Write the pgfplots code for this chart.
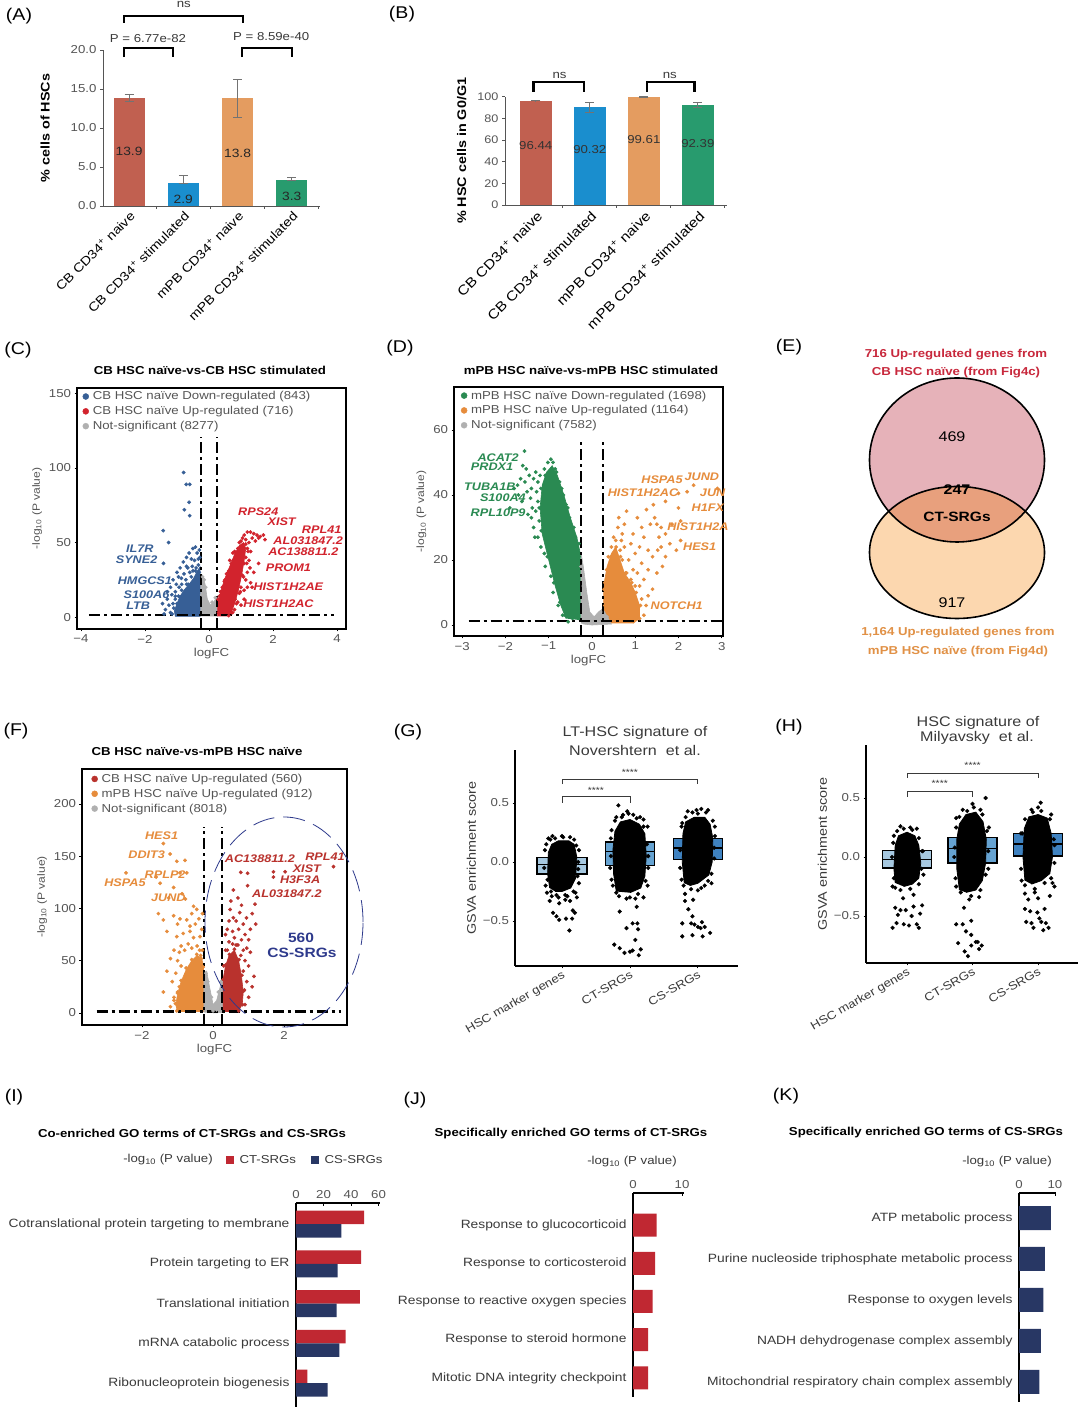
\documentclass[border=0pt]{standalone}
\usepackage{fontspec}
\setmainfont{Liberation Sans}[FakeStretch=1.15]
\usepackage{pgfplots}
\pgfplotsset{compat=1.18}
\usepgfplotslibrary{statistics}

\definecolor{cbn}{HTML}{C16050}
\definecolor{cbs}{HTML}{1A8ECE}
\definecolor{mpn}{HTML}{E49C60}
\definecolor{mps}{HTML}{289B6E}
\definecolor{vblue}{HTML}{375F96}
\definecolor{vred}{HTML}{D2232D}
\definecolor{vgray}{HTML}{B0B0B0}
\definecolor{vgreen}{HTML}{2A8A52}
\definecolor{vorange}{HTML}{E68C3C}
\definecolor{fred}{HTML}{B9322D}
\definecolor{gored}{HTML}{C02832}
\definecolor{gonavy}{HTML}{283764}
\definecolor{txt}{HTML}{3A3A3A}
\definecolor{tick}{HTML}{555555}
\definecolor{vennA}{HTML}{E6B2B9}
\definecolor{vennB}{HTML}{FCD7AF}
\definecolor{vennAB}{HTML}{E8A07D}
\definecolor{vennAt}{HTML}{C8283C}
\definecolor{vennBt}{HTML}{E19146}
\definecolor{box1}{HTML}{A6C8E0}
\definecolor{box2}{HTML}{66A3D2}
\definecolor{box3}{HTML}{3F82C0}
\definecolor{csnavy}{HTML}{2E3A8C}

\newcommand{\fs}[1]{\fontsize{#1}{#1}\selectfont}
\tikzset{gl/.style={font=\bfseries\itshape\fs{11}}}

\pgfplotsset{
  barp/.style={scale only axis, anchor=south west, clip=false, ybar,
    axis lines=left, axis line style={-, draw=tick, line width=0.9pt},
    tick align=outside, major tick length=3pt,
    ytick style={draw=tick, line width=0.9pt},
    yticklabel style={font=\fs{11.5}, text=tick},
    xtick={1,2,3,4}, major x tick style={draw=none},
    minor xtick={1.5,2.5,3.5,4.5}, minor tick length=3pt,
    minor x tick style={draw=tick, line width=0.9pt},
    xticklabel style={rotate=45, anchor=north east, text=black, inner sep=1pt},
    ylabel style={font=\bfseries\fs{12.5}},
    error bars/y dir=both, error bars/y explicit,
    error bars/error bar style={line width=0.8pt, draw=black!55},
    error bars/error mark options={rotate=90, mark size=4.5pt, line width=0.8pt, draw=black!55}},
  vol/.style={scale only axis, anchor=south west, clip=false,
    axis line style={line width=1.6pt},
    tick pos=left, tick align=outside, major tick length=2.5pt,
    tick style={line width=0.6pt, draw=black},
    ticklabel style={font=\fs{11.5}, text=tick},
    xlabel={logFC}, xlabel style={font=\fs{11.5}, text=tick, yshift=2pt},
    ylabel={-log\textsubscript{10} (P value)}, ylabel style={font=\fs{10.5}, text=tick},
    legend cell align=left,
    legend style={anchor=north west, draw=none, fill=none,
      font=\fs{11.5}, text=tick, row sep=3pt, inner sep=0pt, nodes={inner sep=1pt}},
    legend image code/.code={\fill[##1] (3pt,0pt) circle (3pt); \path[draw=none, fill=none] (0pt,0pt) (9pt,0pt);}},
  dots/.style={only marks, mark=*, mark size=1.7pt},
  thr/.style={black, line width=2.4pt, dash pattern=on 11pt off 4pt on 3pt off 4pt, forget plot},
  core/.style={forget plot, line width=0.6pt},
  gsva/.style={scale only axis, anchor=south west, clip=false, axis lines=left,
    boxplot/draw direction=y,
    axis line style={-, line width=2pt}, tick align=outside, major tick length=2.5pt,
    tick style={line width=0.8pt, black},
    ytick={-0.5,0,0.5}, yticklabels={−0.5,0.0,0.5}, yticklabel style={font=\fs{11.5}, text=tick},
    xtick={1,2,3}, xticklabels={HSC marker genes,CT-SRGs,CS-SRGs},
    xticklabel style={rotate=30, anchor=north east, font=\fs{11.5}, text=txt, inner sep=1pt},
    ylabel={GSVA enrichment score}, ylabel style={font=\fs{12.5}, text=txt}},
  jit/.style={only marks, mark=*, mark size=1.9pt, black},
  jcore/.style={forget plot, fill=black, draw=black, line width=0.8pt},
  bx/.style={draw=black, line width=1.5pt},
  gobar/.style={scale only axis, anchor=south west, clip=false, xbar,
    axis x line*=top, axis y line*=left, axis line style={-, line width=1.8pt},
    tick align=inside, major tick length=3pt, xtick style={line width=0.8pt, black},
    ytick={1,2,3,4,5}, ytick style={draw=none},
    xticklabel style={font=\fs{11.5}, text=tick, yshift=1pt},
    yticklabel style={font=\fs{12}, text=txt, xshift=-3pt}},
}

\begin{document}
\begin{tikzpicture}
\path[use as bounding box, fill=white] (0pt,0pt) rectangle (1080pt,1409pt);

% ---------------- (A)
\begin{axis}[barp, at={(103pt,1203pt)}, width=217pt, height=156pt,
  xmin=0.52, xmax=4.52, ymin=0, ymax=20, bar width=31pt,
  ytick={0,5,10,15,20}, yticklabels={0.0,5.0,10.0,15.0,20.0},
  xticklabels={CB CD34\textsuperscript{+} naive, CB CD34\textsuperscript{+} stimulated, mPB CD34\textsuperscript{+} naive, mPB CD34\textsuperscript{+} stimulated},
  xticklabel style={font=\fs{12.5}},
  ylabel={\% cells of HSCs}, ylabel shift=14pt]
\addplot[fill=cbn, draw=none, bar shift=0pt] coordinates {(1,13.9) +- (0,0.45)};
\addplot[fill=cbs, draw=none, bar shift=0pt] coordinates {(2,2.9) += (0,1.05) -= (0,0)};
\addplot[fill=mpn, draw=none, bar shift=0pt] coordinates {(3,13.8) +- (0,2.4)};
\addplot[fill=mps, draw=none, bar shift=0pt] coordinates {(4,3.3) += (0,0.4) -= (0,0)};
\node[font=\fs{12}, text=black!85] at (axis cs:1,7.0) {13.9};
\node[font=\fs{12}, text=black!85] at (axis cs:2,0.9) {2.9};
\node[font=\fs{12}, text=black!85] at (axis cs:3,6.7) {13.8};
\node[font=\fs{12}, text=black!85] at (axis cs:4,1.2) {3.3};
\draw[line width=2.4pt] (axis cs:0.91,23.46) -- (axis cs:0.91,24.36) -- (axis cs:3.1,24.36) -- (axis cs:3.1,23.46);
\draw[line width=2.4pt] (axis cs:0.91,19.1) -- (axis cs:0.91,20.26) -- (axis cs:1.81,20.26) -- (axis cs:1.81,19.1);
\draw[line width=2.4pt] (axis cs:3.08,19.1) -- (axis cs:3.08,20.26) -- (axis cs:4.0,20.26) -- (axis cs:4.0,19.1);
\node[font=\fs{11.5}, text=txt] at (axis cs:2.01,25.8) {ns};
\node[font=\fs{11.5}, text=txt] at (axis cs:1.35,21.5) {P = 6.77e-82};
\node[font=\fs{11.5}, text=txt] at (axis cs:3.62,21.7) {P = 8.59e-40};
\end{axis}

% ---------------- (B)
\begin{axis}[barp, at={(505pt,1204pt)}, width=222pt, height=108.3pt,
  xmin=0.43, xmax=4.54, ymin=0, ymax=100, bar width=32pt,
  ytick={0,20,40,60,80,100}, yticklabels={0,20,40,60,80,100},
  yticklabel style={font=\fs{11}},
  xticklabels={CB CD34\textsuperscript{+} naive, CB CD34\textsuperscript{+} stimulated, mPB CD34\textsuperscript{+} naive, mPB CD34\textsuperscript{+} stimulated},
  xticklabel style={font=\fs{13.5}},
  ylabel={\% HSC cells in G0/G1}, ylabel shift=4pt]
\addplot[fill=cbn, draw=none, bar shift=0pt] coordinates {(1,96.44) +- (0,0.3)};
\addplot[fill=cbs, draw=none, bar shift=0pt] coordinates {(2,90.32) +- (0,4.5)};
\addplot[fill=mpn, draw=none, bar shift=0pt] coordinates {(3,99.61) +- (0,0.3)};
\addplot[fill=mps, draw=none, bar shift=0pt] coordinates {(4,92.39) +- (0,2.5)};
\node[font=\fs{11.5}, text=black!80] at (axis cs:1,54.7) {96.44};
\node[font=\fs{11.5}, text=black!80] at (axis cs:2,50.8) {90.32};
\node[font=\fs{11.5}, text=black!80] at (axis cs:3,60.6) {99.61};
\node[font=\fs{11.5}, text=black!80] at (axis cs:4,56.3) {92.39};
\draw[line width=2.4pt] (axis cs:0.96,104.6) -- (axis cs:0.96,113.6) -- (axis cs:1.89,113.6) -- (axis cs:1.89,104.6);
\draw[line width=2.4pt] (axis cs:3.06,104.6) -- (axis cs:3.06,113.6) -- (axis cs:3.94,113.6) -- (axis cs:3.94,104.6);
\node[font=\fs{11.5}, text=txt] at (axis cs:1.44,120) {ns};
\node[font=\fs{11.5}, text=txt] at (axis cs:3.48,120) {ns};
\end{axis}

% ---------------- (C)
\begin{axis}[vol, at={(77pt,780pt)}, width=269pt, height=241pt,
  xmin=-4.12, xmax=4.28, ymin=-8, ymax=153.7,
  xtick={-4,-2,0,2,4}, xticklabels={−4,−2,0,2,4},
  ytick={0,50,100,150}, yticklabels={0,50,100,150},
  legend style={at={(0.02,0.99)}}]
\addplot[core, fill=vgray, draw=vgray] coordinates {(-0.26,0.5) (-0.26,24) (-0.2,28) (-0.12,22) (-0.05,12) (0.05,8) (0.15,10) (0.26,14) (0.26,0.5)};
\addplot[core, fill=vblue, draw=vblue] coordinates {(-0.27,0.5) (-1.05,0.5) (-1.08,4) (-1.0,9) (-0.9,14) (-0.78,18) (-0.62,22) (-0.48,26) (-0.36,31) (-0.27,34)};
\addplot[core, fill=vred, draw=vred] coordinates {(0.27,0.5) (0.27,10) (0.38,18) (0.5,26) (0.65,34) (0.8,42) (0.95,48) (1.08,50) (1.15,46) (1.1,38) (1.02,28) (0.92,18) (0.8,9) (0.7,3) (0.6,0.5)};
\addplot[dots, vblue] coordinates {(-0.79,97) (-0.71,89) (-0.6,89) (-0.62,77) (-0.77,72) (-0.6,68) (-1.43,58) (-1.26,50) (-1.42,36) (-0.5,46) (-0.42,47) (-0.37,43) (-0.3,45) (-0.62,43) (-0.7,40) (-0.55,39) (-0.8,37) (-0.45,38) (-0.9,33) (-0.33,39) (-0.52,34) (-0.66,33) (-1.0,30) (-0.78,29) (-0.4,33) (-1.12,25) (-0.86,26) (-0.6,30) (-1.2,20) (-1.02,22) (-1.16,15) (-1.3,12) (-1.25,8) (-1.36,5) (-1.2,3) (-1.05,17) (-0.93,20) (-0.72,25) (-0.5,31) (-0.3,30) (-1.45,9) (-0.88,13) (-1.3,17) (-1.12,9) (-0.98,5) (-1.4,2) (-0.7,34) (-0.85,22) (-0.95,27) (-1.05,12) (-1.1,6) (-1.0,9) (-0.95,14) (-0.85,18) (-0.7,22) (-0.55,27) (-0.42,31) (-1.15,2) (-0.33,35) (-0.28,40) (-0.65,22) (-0.8,15) (-1.05,14) (-0.5,22)};
\addlegendentry{CB HSC naïve Down-regulated (843)}
\addplot[dots, vred] coordinates {(1.1,55) (1.2,57) (1.3,57) (1.4,56) (1.5,55) (1.55,53) (1.05,53) (1.15,52) (1.0,51) (0.95,50) (1.25,50) (1.45,51) (1.6,54) (1.35,53) (1.7,55) (1.75,52) (0.9,46) (1.2,46) (1.3,44) (1.15,40) (1.25,38) (1.4,30) (1.55,36) (1.1,36) (1.2,30) (1.05,28) (1.15,25) (1.3,23) (1.35,20) (1.2,20) (1.1,18) (1.0,20) (0.95,16) (0.9,10) (0.8,5) (0.7,3) (0.65,38) (0.75,43) (0.6,30) (0.5,25) (0.42,20) (0.35,12) (0.82,12) (1.0,40) (0.88,35) (1.0,8) (1.1,12) (0.3,3) (0.8,44) (1.28,33) (0.28,12) (0.36,17) (0.48,24) (0.62,31) (0.76,38) (0.92,46) (1.15,49) (1.22,44) (1.18,36) (1.08,27) (0.98,17) (0.86,9) (0.74,3) (0.62,1) (0.33,14) (0.55,29) (0.7,36) (0.85,43)};
\addlegendentry{CB HSC naïve Up-regulated (716)}
\addplot[dots, vgray] coordinates {(-0.2,27) (-0.15,25) (-0.1,20) (0.1,10) (0.2,13) (0.0,5) (-0.22,15) (0.15,4) (0.05,3) (-0.08,9)};
\addlegendentry{Not-significant (8277)}
\addplot[thr] coordinates {(-0.25,-8) (-0.25,121)};
\addplot[thr] coordinates {(0.25,-8) (0.25,121)};
\addplot[thr] coordinates {(-3.75,1.3) (3.9,1.3)};
\node[gl, text=vblue] at (axis cs:-2.16,45.6) {IL7R};
\node[gl, text=vblue] at (axis cs:-2.26,38.7) {SYNE2};
\node[gl, text=vblue] at (axis cs:-2.0,24.4) {HMGCS1};
\node[gl, text=vblue] at (axis cs:-1.95,14.8) {S100A6};
\node[gl, text=vblue] at (axis cs:-2.21,7.4) {LTB};
\node[gl, text=vred] at (axis cs:1.54,70.6) {RPS24};
\node[gl, text=vred] at (axis cs:2.27,63.9) {XIST};
\node[gl, text=vred] at (axis cs:3.52,58.9) {RPL41};
\node[gl, text=vred] at (axis cs:3.1,51.2) {AL031847.2};
\node[gl, text=vred] at (axis cs:2.95,43.8) {AC138811.2};
\node[gl, text=vred] at (axis cs:2.48,33.1) {PROM1};
\node[gl, text=vred] at (axis cs:2.48,20.3) {HIST1H2AE};
\node[gl, text=vred] at (axis cs:2.17,8.7) {HIST1H2AC};
\end{axis}

% ---------------- (D)
\begin{axis}[vol, at={(454pt,773pt)}, width=269pt, height=249pt,
  xmin=-3.19, xmax=3.03, ymin=-3.38, ymax=73.2,
  xtick={-3,-2,-1,0,1,2,3}, xticklabels={−3,−2,−1,0,1,2,3},
  ytick={0,20,40,60}, yticklabels={0,20,40,60},
  legend style={at={(0.025,0.99)}}]
\addplot[core, fill=vgreen, draw=vgreen] coordinates {(-0.27,1.5) (-0.27,22) (-0.35,27) (-0.5,33) (-0.65,40) (-0.8,46) (-0.92,49) (-1.05,47) (-1.15,43) (-1.2,36) (-1.15,28) (-1.0,20) (-0.85,12) (-0.72,6) (-0.6,2)};
\addplot[core, fill=vorange, draw=vorange] coordinates {(0.27,0.5) (0.27,12) (0.35,18) (0.45,22) (0.55,24) (0.65,20) (0.75,16) (0.9,13) (1.0,10) (1.1,6) (1.1,2) (0.95,0.5)};
\addplot[core, fill=vgray, draw=vgray] coordinates {(-0.25,0.5) (-0.25,22) (-0.2,18) (-0.12,10) (-0.05,4) (0.05,2.5) (0.15,4) (0.25,5) (0.4,1.5) (0.45,0.3) (0,0) (-0.2,0.3)};
\addplot[dots, vgreen] coordinates {(-0.95,51) (-0.9,50) (-1.02,50) (-0.85,48) (-1.1,48) (-1.2,46) (-1.25,44) (-1.28,41) (-1.25,38) (-1.3,35) (-1.22,32) (-1.25,27) (-1.18,24) (-1.1,22) (-1.08,18) (-0.95,15) (-0.9,10) (-0.78,6) (-0.68,3) (-0.55,1) (-0.45,2) (-0.75,44) (-0.7,42) (-0.6,37) (-0.5,30) (-0.42,30) (-0.3,25) (-0.33,20) (-0.56,36) (-1.56,53.5) (-1.6,49) (-1.52,48) (-1.65,45) (-1.55,44) (-1.45,46) (-1.72,43) (-1.5,41) (-1.42,39) (-1.62,38) (-1.38,36) (-1.9,36) (-1.35,30) (-1.4,33) (-1.48,34) (-1.32,27) (-1.7,40) (-1.8,42) (-1.35,45) (-1.4,42) (-1.3,47) (-0.3,21) (-0.38,27) (-0.52,33) (-0.66,40) (-0.82,47) (-1.08,46) (-1.18,42) (-1.22,36) (-1.17,29) (-1.03,21) (-0.88,13) (-0.74,7) (-0.62,3) (-1.0,44) (-0.6,34) (-0.45,28)};
\addlegendentry{mPB HSC naïve Down-regulated (1698)}
\addplot[dots, vorange] coordinates {(0.8,35) (1.26,35.5) (1.45,33) (1.5,31) (1.35,31) (1.6,30) (1.7,28) (1.55,27) (1.05,33) (1.15,30) (0.95,28) (1.2,27) (1.1,24) (1.3,23) (1.0,22) (1.4,21) (1.7,21) (1.6,24) (1.8,25) (2.0,36) (2.05,32) (2.35,43) (2.2,41) (2.9,42) (2.05,26) (1.25,6) (1.1,12) (0.9,25) (0.7,28) (0.6,30) (0.55,26) (0.65,23) (0.75,31) (0.85,20) (0.5,27) (0.45,24) (0.38,21) (1.3,17) (1.2,14) (1.5,16) (0.95,17) (1.15,19) (0.62,33) (1.42,37) (1.85,31) (1.95,23) (1.63,18) (2.0,40.5) (0.4,17) (0.3,13) (0.7,20) (0.8,16) (0.9,14) (1.0,12) (1.15,8) (1.2,3) (0.35,8) (0.58,12) (0.75,24) (0.68,26) (1.05,16) (1.4,11) (1.3,9) (1.7,38) (1.52,23) (0.28,11) (0.34,17) (0.44,21) (0.56,24) (0.66,21) (0.78,16) (0.92,13) (1.02,10) (1.12,6) (1.1,2) (0.5,19) (0.6,18) (0.3,6) (0.7,12)};
\addlegendentry{mPB HSC naïve Up-regulated (1164)}
\addplot[dots, vgray] coordinates {(-0.25,18) (-0.2,12) (-0.15,6) (0,1) (0.1,2.5) (0.2,4) (0.35,2.5) (-0.1,3)};
\addlegendentry{Not-significant (7582)}
\addplot[thr] coordinates {(-0.25,-3.38) (-0.25,57)};
\addplot[thr] coordinates {(0.25,-3.38) (0.25,57)};
\addplot[thr] coordinates {(-2.85,1.3) (3.03,1.3)};
\node[gl, text=vgreen] at (axis cs:-2.17,51.4) {ACAT2};
\node[gl, text=vgreen] at (axis cs:-2.31,48.6) {PRDX1};
\node[gl, text=vgreen] at (axis cs:-2.36,42.5) {TUBA1B};
\node[gl, text=vgreen] at (axis cs:-2.06,39.1) {S100A4};
\node[gl, text=vgreen] at (axis cs:-2.17,34.5) {RPL10P9};
\node[gl, text=vorange] at (axis cs:1.62,44.6) {HSPA5};
\node[gl, text=vorange] at (axis cs:2.54,45.5) {JUND};
\node[gl, text=vorange] at (axis cs:1.18,40.6) {HIST1H2AC};
\node[gl, text=vorange] at (axis cs:2.79,40.6) {JUN};
\node[gl, text=vorange] at (axis cs:2.68,36) {H1FX};
\node[gl, text=vorange] at (axis cs:2.45,30.2) {HIST1H2A};
\node[gl, text=vorange] at (axis cs:2.49,24) {HES1};
\node[gl, text=vorange] at (axis cs:1.96,5.8) {NOTCH1};
\end{axis}

% ---------------- (F)
\begin{axis}[vol, at={(82pt,384pt)}, width=265pt, height=256pt,
  xmin=-3.69, xmax=3.77, ymin=-11.5, ymax=233.3,
  xtick={-2,0,2}, xticklabels={−2,0,2},
  ytick={0,50,100,150,200}, yticklabels={0,50,100,150,200},
  legend style={at={(0.035,0.985)}}]
\addplot[core, fill=vorange, draw=vorange] coordinates {(-0.27,1) (-0.27,45) (-0.32,52) (-0.45,55) (-0.6,50) (-0.75,42) (-0.9,30) (-1.0,18) (-1.05,8) (-1.0,1)};
\addplot[core, fill=fred, draw=fred] coordinates {(0.27,1) (0.27,30) (0.35,45) (0.45,55) (0.6,60) (0.72,50) (0.8,35) (0.85,20) (0.82,8) (0.7,1)};
\addplot[core, fill=vgray, draw=vgray] coordinates {(-0.26,0.5) (-0.26,38) (-0.18,40) (-0.1,25) (0,8) (0.1,12) (0.2,25) (0.26,35) (0.26,0.5) (0,0)};
\addplot[dots, fred] coordinates {(0.78,134.5) (0.97,133.6) (0.97,121.7) (0.57,117.6) (1.18,104) (0.48,99) (0.57,91) (0.94,91) (0.75,96) (0.65,88) (0.85,85) (0.45,88) (0.4,80) (0.55,78) (0.72,80) (0.9,75) (1.0,70) (0.8,70) (0.6,72) (0.95,62) (1.05,58) (0.85,60) (0.65,65) (0.45,68) (0.35,60) (0.9,50) (1.0,45) (0.85,40) (0.95,30) (0.88,22) (1.1,25) (1.0,15) (0.9,8) (0.35,75) (1.7,135) (2.03,135) (1.7,130) (3.39,140) (1.2,85) (1.1,95) (0.7,110) (0.5,107) (0.8,103) (1.05,80) (0.6,50) (0.3,45) (0.4,30) (1.15,35) (0.28,32) (0.36,46) (0.46,56) (0.6,61) (0.73,51) (0.81,36) (0.86,21) (0.83,8) (0.72,2) (0.5,45) (0.65,30) (0.4,60) (0.78,55) (0.7,65) (0.55,66)};
\addlegendentry{CB HSC naïve Up-regulated (560)}
\addplot[dots, vorange] coordinates {(-1.4,162) (-1.21,152) (-1.02,145) (-0.79,146) (-0.74,134) (-0.93,134) (-2.45,134) (-1.49,124) (-1.11,120) (-0.87,114) (-0.78,109) (-1.54,95) (-1.4,89) (-1.11,93) (-0.93,90) (-0.74,89) (-0.6,95) (-0.46,99) (-1.3,78) (-1.02,73) (-0.84,76) (-0.65,83) (-0.55,72) (-0.37,73) (-0.5,85) (-0.4,90) (-0.32,80) (-0.7,66) (-0.9,64) (-1.1,60) (-1.2,52) (-1.0,50) (-0.9,45) (-1.05,38) (-1.15,30) (-1.0,20) (-1.1,12) (-1.2,6) (-0.95,58) (-0.8,60) (-0.6,62) (-0.45,64) (-0.3,60) (-0.35,55) (-1.3,40) (-1.4,20) (-0.55,102) (-1.25,110) (-1.6,130) (-0.65,78) (-1.0,85) (-0.3,95) (-0.28,44) (-0.33,52) (-0.46,56) (-0.6,51) (-0.76,43) (-0.9,31) (-1.0,19) (-1.06,9) (-1.02,2) (-0.4,48) (-0.7,30) (-0.85,10) (-0.5,40) (-0.95,25) (-1.1,15) (-0.38,60)};
\addlegendentry{mPB HSC naïve Up-regulated (912)}
\addplot[dots, vgray] coordinates {(-0.2,38) (-0.15,30) (-0.05,15) (0.05,5) (0.15,20) (0.22,30) (0,2) (-0.1,8) (0.1,3)};
\addlegendentry{Not-significant (8018)}
\addplot[thr] coordinates {(-0.25,-11.5) (-0.25,178)};
\addplot[thr] coordinates {(0.25,-11.5) (0.25,178)};
\addplot[thr] coordinates {(-3.28,1.3) (3.6,1.3)};
\node[gl, text=vorange] at (axis cs:-1.45,169.5) {HES1};
\node[gl, text=vorange] at (axis cs:-1.87,151) {DDIT3};
\node[gl, text=vorange] at (axis cs:-1.35,132.6) {RPLP2};
\node[gl, text=vorange] at (axis cs:-2.48,125) {HSPA5};
\node[gl, text=vorange] at (axis cs:-1.26,109.7) {JUND};
\node[gl, text=fred] at (axis cs:1.32,147.9) {AC138811.2};
\node[gl, text=fred] at (axis cs:3.15,149.4) {RPL41};
\node[gl, text=fred] at (axis cs:2.64,138.3) {XIST};
\node[gl, text=fred] at (axis cs:2.45,127) {H3F3A};
\node[gl, text=fred] at (axis cs:2.08,114.4) {AL031847.2};
\end{axis}
\draw[csnavy, line width=0.8pt, dash pattern=on 22pt off 9pt] (284pt,487pt) ellipse [x radius=79pt, y radius=105pt];
\node[font=\bfseries\fs{13.5}, text=csnavy] at (301pt,471pt) {560};
\node[font=\bfseries\fs{13.5}, text=csnavy] at (302pt,456pt) {CS-SRGs};

% ---------------- (G)
\begin{axis}[gsva, at={(515pt,443pt)}, width=223pt, height=216pt,
  xmin=0.31, xmax=3.59, ymin=-0.881, ymax=0.949]
\addplot[bx, fill=box1, boxplot prepared={draw position=1, lower whisker=-0.1, lower quartile=-0.1, median=-0.02, upper quartile=0.04, upper whisker=0.04, box extend=0.74, whisker extend=0}] coordinates {};
\addplot[bx, fill=box2, boxplot prepared={draw position=2, lower whisker=-0.03, lower quartile=-0.03, median=0.09, upper quartile=0.17, upper whisker=0.17, box extend=0.72, whisker extend=0}] coordinates {};
\addplot[bx, fill=box3, boxplot prepared={draw position=3, lower whisker=0.02, lower quartile=0.02, median=0.12, upper quartile=0.2, upper whisker=0.2, box extend=0.72, whisker extend=0}] coordinates {};
\addplot[jcore] coordinates {(0.82,-0.22) (0.79,-0.1) (0.8,0.08) (0.85,0.15) (0.95,0.18) (1.1,0.18) (1.18,0.15) (1.22,0.04) (1.2,-0.14) (1.13,-0.22) (1.0,-0.25) (0.9,-0.25)};
\addplot[jcore] coordinates {(1.8,-0.25) (1.76,-0.1) (1.75,0.1) (1.78,0.26) (1.86,0.34) (2.0,0.36) (2.14,0.32) (2.22,0.24) (2.24,0.05) (2.22,-0.12) (2.16,-0.22) (2.0,-0.26)};
\addplot[jcore] coordinates {(2.8,-0.18) (2.77,0.0) (2.78,0.24) (2.82,0.34) (2.95,0.38) (3.1,0.38) (3.18,0.32) (3.22,0.2) (3.21,0.0) (3.16,-0.11) (3.0,-0.18) (2.88,-0.2)};
\addplot[jit] coordinates {(0.8,0.2) (0.86,0.22) (1.02,0.21) (1.18,0.19) (1.25,0.1) (1.24,-0.06) (1.25,-0.18) (1.2,-0.26) (0.76,-0.2) (0.74,-0.05) (0.75,0.1) (0.78,-0.26) (0.85,-0.29) (0.95,-0.3) (1.08,-0.29) (1.12,-0.33) (1.05,-0.32) (0.96,-0.35) (1.16,-0.41) (0.87,-0.43) (0.92,-0.46) (1.19,-0.43) (0.96,-0.49) (1.06,-0.48) (1.15,-0.48) (1.11,-0.58) (0.82,-0.33) (1.22,-0.3) (0.77,0.15) (0.79,-0.15) (0.83,0.19) (0.9,0.2) (1.0,0.22) (1.12,0.21) (1.21,0.14) (1.24,0.0) (1.23,-0.12) (1.17,-0.25) (1.05,-0.28) (0.92,-0.28) (0.84,-0.25)};
\addplot[jit] coordinates {(1.83,0.48) (1.9,0.4) (2.05,0.4) (1.8,0.38) (2.2,0.36) (2.26,0.3) (1.72,0.2) (1.71,-0.05) (1.75,-0.2) (2.27,-0.05) (2.26,-0.2) (1.84,-0.29) (1.95,-0.31) (2.08,-0.31) (2.2,-0.3) (1.85,-0.42) (2.1,-0.38) (1.95,-0.56) (2.04,-0.52) (2.11,-0.52) (2.12,-0.57) (1.77,-0.7) (1.85,-0.73) (1.92,-0.77) (2.04,-0.75) (2.16,-0.74) (2.13,-0.79) (2.08,-0.66) (2.0,-0.76) (1.73,0.27) (1.78,0.35) (1.88,0.38) (1.98,0.41) (2.1,0.37) (2.2,0.3) (2.25,0.15) (2.27,0.05) (1.72,0.05) (1.73,-0.15) (1.8,-0.26) (2.0,-0.3) (2.12,-0.27) (2.23,-0.16) (1.96,0.43) (2.15,0.38)};
\addplot[jit] coordinates {(2.85,0.43) (3.05,0.45) (3.15,0.44) (2.77,0.33) (3.25,0.3) (3.24,0.12) (2.74,0.1) (2.76,-0.15) (3.2,-0.18) (2.81,-0.27) (2.93,-0.32) (2.81,-0.33) (2.86,-0.4) (2.92,-0.46) (2.77,-0.52) (2.9,-0.52) (2.95,-0.53) (3.0,-0.55) (3.06,-0.51) (3.04,-0.56) (3.1,-0.55) (3.18,-0.6) (2.92,-0.62) (2.77,-0.63) (3.07,-0.63) (3.0,-0.24) (3.1,-0.2) (2.76,0.3) (2.82,0.38) (2.92,0.42) (3.0,0.41) (3.12,0.42) (3.22,0.35) (3.25,0.22) (3.24,0.03) (3.2,-0.1) (2.74,-0.05) (2.79,-0.2) (2.9,-0.23) (3.05,-0.22) (3.15,-0.16) (2.98,0.44)};
\draw[line width=0.8pt, txt] (axis cs:1,0.5) -- (axis cs:1,0.553) -- (axis cs:2,0.553) -- (axis cs:2,0.5);
\draw[line width=0.8pt, txt] (axis cs:1,0.66) -- (axis cs:1,0.70) -- (axis cs:3,0.70) -- (axis cs:3,0.66);
\node[font=\fs{9}, text=txt] at (axis cs:1.5,0.61) {****};
\node[font=\fs{9}, text=txt] at (axis cs:2,0.76) {****};
\end{axis}

% ---------------- (H)
\begin{axis}[gsva, at={(866pt,446pt)}, width=212pt, height=218pt,
  xmin=0.374, xmax=3.61, ymin=-0.898, ymax=0.949]
\addplot[bx, fill=box1, boxplot prepared={draw position=1, lower whisker=-0.093, lower quartile=-0.093, median=-0.02, upper quartile=0.055, upper whisker=0.055, box extend=0.75, whisker extend=0}] coordinates {};
\addplot[bx, fill=box2, boxplot prepared={draw position=2, lower whisker=-0.05, lower quartile=-0.05, median=0.074, upper quartile=0.167, upper whisker=0.167, box extend=0.75, whisker extend=0}] coordinates {};
\addplot[bx, fill=box3, boxplot prepared={draw position=3, lower whisker=0.01, lower quartile=0.01, median=0.11, upper quartile=0.2, upper whisker=0.2, box extend=0.75, whisker extend=0}] coordinates {};
\addplot[jcore] coordinates {(0.82,-0.22) (0.8,-0.1) (0.82,0.1) (0.87,0.18) (1.0,0.21) (1.12,0.18) (1.18,0.1) (1.21,-0.05) (1.18,-0.18) (1.08,-0.23) (0.95,-0.25)};
\addplot[jcore] coordinates {(1.8,-0.28) (1.76,-0.1) (1.76,0.15) (1.8,0.28) (1.9,0.36) (2.05,0.38) (2.16,0.3) (2.21,0.15) (2.2,-0.05) (2.15,-0.2) (2.05,-0.28) (1.9,-0.3)};
\addplot[jcore] coordinates {(2.8,-0.2) (2.77,0.0) (2.79,0.24) (2.86,0.34) (3.0,0.36) (3.14,0.33) (3.2,0.2) (3.22,0.0) (3.18,-0.14) (3.05,-0.2) (2.9,-0.23)};
\addplot[jit] coordinates {(0.9,0.26) (1.05,0.25) (1.15,0.24) (0.8,0.18) (0.77,0.0) (1.24,0.05) (1.25,-0.15) (0.78,-0.25) (0.94,-0.35) (1.1,-0.32) (0.82,-0.43) (0.9,-0.45) (0.98,-0.45) (1.1,-0.42) (1.23,-0.41) (0.86,-0.49) (0.95,-0.57) (1.03,-0.58) (1.15,-0.57) (0.78,-0.6) (1.18,-0.6) (1.07,-0.5) (1.2,-0.48) (0.84,-0.56) (0.79,0.12) (0.8,-0.18) (0.85,0.22) (0.95,0.24) (1.08,0.23) (1.18,0.16) (1.23,0.05) (1.22,-0.1) (1.18,-0.23) (1.05,-0.27) (0.9,-0.28) (0.82,-0.26)};
\addplot[jit] coordinates {(2.2,0.5) (1.85,0.4) (2.12,0.4) (1.75,0.33) (2.25,0.25) (1.72,0.0) (2.24,-0.1) (1.75,-0.25) (1.95,-0.36) (2.1,-0.34) (1.87,-0.43) (1.85,-0.57) (1.75,-0.57) (1.98,-0.54) (1.9,-0.63) (1.98,-0.66) (2.05,-0.72) (1.78,-0.73) (1.88,-0.8) (1.98,-0.75) (2.08,-0.72) (2.14,-0.75) (1.93,-0.84) (2.1,-0.78) (1.75,0.25) (1.8,0.34) (1.92,0.39) (2.02,0.42) (2.15,0.36) (2.22,0.22) (2.24,0.05) (1.73,0.08) (1.74,-0.18) (1.82,-0.3) (1.98,-0.33) (2.12,-0.28) (2.2,-0.15) (2.0,0.45)};
\addplot[jit] coordinates {(3.04,0.46) (2.9,0.4) (3.2,0.36) (2.74,0.2) (3.25,0.1) (2.75,-0.2) (3.22,-0.22) (2.8,-0.31) (2.95,-0.3) (2.85,-0.36) (3.0,-0.35) (2.8,-0.44) (2.88,-0.46) (2.99,-0.47) (3.1,-0.44) (3.18,-0.33) (2.82,-0.55) (2.9,-0.56) (3.05,-0.55) (3.12,-0.56) (3.02,-0.52) (3.16,-0.6) (2.93,-0.6) (3.08,-0.62) (3.25,-0.25) (2.76,0.2) (2.8,0.32) (2.92,0.38) (3.05,0.39) (3.18,0.32) (3.24,0.15) (3.25,-0.05) (3.2,-0.18) (2.74,-0.1) (2.8,-0.24) (2.95,-0.27) (3.1,-0.22) (3.0,0.42)};
\draw[line width=0.8pt, txt] (axis cs:1,0.51) -- (axis cs:1,0.553) -- (axis cs:2,0.553) -- (axis cs:2,0.51);
\draw[line width=0.8pt, txt] (axis cs:1,0.67) -- (axis cs:1,0.71) -- (axis cs:3,0.71) -- (axis cs:3,0.67);
\node[font=\fs{9}, text=txt] at (axis cs:1.5,0.62) {****};
\node[font=\fs{9}, text=txt] at (axis cs:2,0.78) {****};
\end{axis}

% ---------------- (I)
\begin{axis}[gobar, at={(296pt,2pt)}, width=83.9pt, height=204pt,
  xmin=0, xmax=61, ymin=0.4, ymax=5.53, bar width=13.5pt,
  xtick={0,20,40,60}, xticklabels={0,20,40,60},
  yticklabels={Ribonucleoprotein biogenesis, mRNA catabolic process, Translational initiation, Protein targeting to ER, Cotranslational protein targeting to membrane}]
\addplot[fill=gored, draw=none, bar shift=0pt] coordinates {(49.5,5.17) (47.3,4.17) (46.5,3.17) (36,2.17) (8.2,1.17)};
\addplot[fill=gonavy, draw=none, bar shift=0pt] coordinates {(33,4.83) (30.3,3.83) (29.6,2.83) (31.5,1.83) (23,0.83)};
\end{axis}

% ---------------- (J)
\begin{axis}[gobar, at={(633pt,12pt)}, width=50.5pt, height=204pt,
  xmin=0, xmax=10.3, ymin=0.5, ymax=5.84, bar width=23pt,
  xtick={0,10}, xticklabels={0,10},
  yticklabels={Mitotic DNA integrity checkpoint, Response to steroid hormone, Response to reactive oxygen species, Response to corticosteroid, Response to glucocorticoid}]
\addplot[fill=gored, draw=none, bar shift=0pt] coordinates {(4.8,5) (4.5,4) (4.0,3) (3.1,2) (3.1,1)};
\end{axis}

% ---------------- (K)
\begin{axis}[gobar, at={(1019pt,7pt)}, width=37pt, height=209pt,
  xmin=0, xmax=10.3, ymin=0.51, ymax=5.61, bar width=24pt,
  xtick={0,10}, xticklabels={0,10},
  yticklabels={Mitochondrial respiratory chain complex assembly, NADH dehydrogenase complex assembly, Response to oxygen levels, Purine nucleoside triphosphate metabolic process, ATP metabolic process}]
\addplot[fill=gonavy, draw=none, bar shift=0pt] coordinates {(8.9,5) (7.2,4) (6.8,3) (6.1,2) (5.7,1)};
\end{axis}

% ---------------- (E) Venn
\fill[vennA] (957pt,949pt) ellipse [x radius=87.5pt, y radius=82pt];
\fill[vennB] (957pt,856.5pt) ellipse [x radius=87.5pt, y radius=66pt];
\begin{scope}
\clip (957pt,949pt) ellipse [x radius=87.5pt, y radius=82pt];
\fill[vennAB] (957pt,856.5pt) ellipse [x radius=87.5pt, y radius=66pt];
\end{scope}
\draw[line width=1.6pt] (957pt,949pt) ellipse [x radius=87.5pt, y radius=82pt];
\draw[line width=1.6pt] (957pt,856.5pt) ellipse [x radius=87.5pt, y radius=66pt];
\node[font=\fs{14}] at (952pt,972pt) {469};
\node[font=\bfseries\fs{14}] at (957pt,919pt) {247};
\node[font=\bfseries\fs{13.5}] at (957pt,892pt) {CT-SRGs};
\node[font=\fs{14}] at (952pt,806pt) {917};
\node[font=\bfseries\fs{11.5}, text=vennAt] at (956pt,1054pt) {716 Up-regulated genes from};
\node[font=\bfseries\fs{11.5}, text=vennAt] at (956pt,1036pt) {CB HSC naïve (from Fig4c)};
\node[font=\bfseries\fs{11.5}, text=vennBt] at (958pt,776pt) {1,164 Up-regulated genes from};
\node[font=\bfseries\fs{11.5}, text=vennBt] at (958pt,757pt) {mPB HSC naïve (from Fig4d)};

% ---------------- titles and panel labels
\node[font=\bfseries\fs{11.5}] at (210pt,1039pt) {CB HSC naïve-vs-CB HSC stimulated};
\node[font=\bfseries\fs{11.5}] at (591pt,1039pt) {mPB HSC naïve-vs-mPB HSC stimulated};
\node[font=\bfseries\fs{11.5}] at (197pt,657pt) {CB HSC naïve-vs-mPB HSC naïve};
\node[font=\fs{14}, text=txt] at (635pt,676pt) {LT-HSC signature of};
\node[font=\fs{14}, text=txt] at (635pt,658pt) {Novershtern\ \ et al.};
\node[font=\fs{14}, text=txt] at (978pt,686pt) {HSC signature of};
\node[font=\fs{14}, text=txt] at (977pt,671pt) {Milyavsky\ \ et al.};
\node[font=\bfseries\fs{11.5}] at (192pt,276pt) {Co-enriched GO terms of CT-SRGs and CS-SRGs};
\node[font=\bfseries\fs{11.5}] at (571pt,275pt) {Specifically enriched GO terms of CT-SRGs};
\node[font=\bfseries\fs{11.5}] at (926pt,276pt) {Specifically enriched GO terms of CS-SRGs};
\node[font=\fs{11.5}, text=txt] at (168pt,249pt) {-log\textsubscript{10} (P value)};
\fill[gored] (226pt,245pt) rectangle (234pt,253pt);
\node[font=\fs{11.5}, text=txt, anchor=west] at (236pt,249pt) {CT-SRGs};
\fill[gonavy] (311pt,245pt) rectangle (319pt,253pt);
\node[font=\fs{11.5}, text=txt, anchor=west] at (321pt,249pt) {CS-SRGs};
\node[font=\fs{11.5}, text=txt] at (632pt,247pt) {-log\textsubscript{10} (P value)};
\node[font=\fs{11.5}, text=txt] at (1007pt,247pt) {-log\textsubscript{10} (P value)};

\foreach \lab/\x/\y in {A/19/1393, B/402/1395, C/18/1059, D/400/1061, E/789/1062, F/16/678, G/408/677, H/789/682, I/14/312, J/415/309, K/786/313}
  \node[font=\fs{17}] at (\x pt,\y pt) {(\lab)};
\end{tikzpicture}
\end{document}
